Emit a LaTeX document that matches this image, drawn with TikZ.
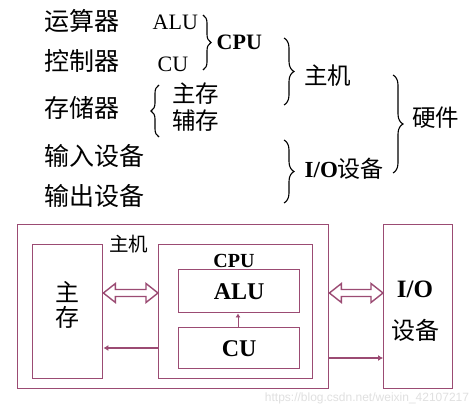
\documentclass[tikz,border=0pt]{standalone}
\usepackage{fontspec}
\setmainfont{Liberation Serif}
\setsansfont{Liberation Sans}
\newfontfamily\cjk{Noto Sans CJK SC}
\usetikzlibrary{decorations.pathreplacing,arrows.meta,calc}
\definecolor{mauve}{RGB}{155,75,115}
\tikzset{
  box/.style={draw=mauve, line width=1.4pt, rectangle, inner sep=0pt, anchor=north west},
  txt/.style={inner sep=0pt, text=black},
  brc/.style={decorate, line width=1.1pt, black},
  link/.style={draw=mauve, line width=1.4pt, -{Latex[length=5pt,width=6pt]}},
  hollow/.style={draw=mauve, line width=1.4pt, fill=white, line join=miter},
}
\newcommand\hollowdbl[2]{%
  \draw[hollow] let \p1=(#1), \p2=(#2) in
    (\x1,\y1) -- (\x1+12pt,\y1+9.5pt) -- (\x1+12pt,\y1+3.5pt) -- (\x2-12pt,\y2+3.5pt)
    -- (\x2-12pt,\y2+9.5pt) -- (\x2,\y2) -- (\x2-12pt,\y2-9.5pt) -- (\x2-12pt,\y2-3.5pt)
    -- (\x1+12pt,\y1-3.5pt) -- (\x1+12pt,\y1-9.5pt) -- cycle;}
\begin{document}
\begin{tikzpicture}[x=1pt,y=-1pt]
\useasboundingbox (0,0) rectangle (474,404);
\fill[white] (0,0) rectangle (474,404);
% ---------- top classification ----------
\node[txt,anchor=west,font=\cjk\fontsize{25}{25}\selectfont] (ysq) at (44,21) {运算器};
\node[txt,anchor=west,font=\cjk\fontsize{25}{25}\selectfont] (kzq) at (44,61) {控制器};
\node[txt,anchor=west,font=\cjk\fontsize{25}{25}\selectfont] (ccq) at (44,107.5) {存储器};
\node[txt,anchor=west,font=\cjk\fontsize{25}{25}\selectfont] (srsb) at (44,156) {输入设备};
\node[txt,anchor=west,font=\cjk\fontsize{25}{25}\selectfont] (scsb) at (44,196) {输出设备};
\node[txt,anchor=base west,font=\fontsize{22}{22}\selectfont] (alut) at (152.5,30) {ALU};
\node[txt,anchor=base west,font=\fontsize{22}{22}\selectfont] (cut) at (157.5,72) {CU};
\node[txt,anchor=base west,font=\bfseries\fontsize{22}{22}\selectfont] (cput) at (216.5,50) {CPU};
\node[txt,anchor=west,font=\cjk\fontsize{23.5}{23.5}\selectfont] (zjt) at (304,76) {主机};
\node[txt,anchor=west,font=\cjk\fontsize{23.5}{23.5}\selectfont] (zct) at (172,94) {主存};
\node[txt,anchor=west,font=\cjk\fontsize{23.5}{23.5}\selectfont] (fct) at (172,121) {辅存};
\node[txt,anchor=base west,font=\fontsize{23}{23}\selectfont] (iot) at (304.5,177) {{\bfseries I/O}{\cjk 设备}};
\node[txt,anchor=west,font=\cjk\fontsize{23.5}{23.5}\selectfont] (yjt) at (412,117.5) {硬件};
% braces
\coordinate (b1a) at (203,15);  \coordinate (b1b) at (203,70);
\coordinate (b2a) at (284,38);  \coordinate (b2b) at (284,105);
\coordinate (b3a) at (159,137); \coordinate (b3b) at (159,85);
\coordinate (b4a) at (284,140); \coordinate (b4b) at (284,203);
\coordinate (b5a) at (393,75);  \coordinate (b5b) at (393,173);
\draw[brc, decoration={brace,amplitude=8pt}] (b1a) -- (b1b);
\draw[brc, decoration={brace,amplitude=10pt}] (b2a) -- (b2b);
\draw[brc, decoration={brace,amplitude=8pt}] (b3a) -- (b3b);
\draw[brc, decoration={brace,amplitude=10pt}] (b4a) -- (b4b);
\draw[brc, decoration={brace,amplitude=10pt}] (b5a) -- (b5b);
% ---------- bottom block diagram ----------
\node[box, minimum width=311pt, minimum height=164pt] (host) at (17,224) {};
\node[box, minimum width=70pt, minimum height=134pt] (ms) at (32,244) {};
\node[box, minimum width=154pt, minimum height=134pt] (cpu) at (158,244) {};
\node[box, minimum width=121pt, minimum height=43pt, font=\bfseries\fontsize{24}{24}\selectfont] (alu) at (178,269) {ALU};
\node[box, minimum width=121pt, minimum height=41pt, font=\bfseries\fontsize{24}{24}\selectfont] (cu) at (178,327) {CU};
\node[box, minimum width=69pt, minimum height=164pt] (io) at (383,224) {};
\node[txt,font=\cjk\fontsize{19.5}{19.5}\selectfont] (hostl) at (128.5,244.5) {主机};
\node[txt,font=\bfseries\fontsize{20}{20}\selectfont,anchor=base] (cpul) at (234,267) {CPU};
\node[txt,font=\cjk\fontsize{24}{24}\selectfont] (ms1) at (67,292.5) {主};
\node[txt,font=\cjk\fontsize{24}{24}\selectfont] (ms2) at (67,317.5) {存};
\node[txt,font=\bfseries\fontsize{25}{25}\selectfont,anchor=base] (io1) at (415,297) {I/O};
\node[txt,font=\cjk\fontsize{24}{24}\selectfont] (io2) at (415,330) {设备};
% connectors
\coordinate (d1a) at (ms.east |- 0,293);
\coordinate (d1b) at (cpu.west |- 0,293);
\coordinate (d2a) at (host.east |- 0,293);
\coordinate (d2b) at (io.west |- 0,293);
\hollowdbl{d1a}{d1b}
\hollowdbl{d2a}{d2b}
\draw[link] (cpu.west |- 0,348) -- (ms.east |- 0,348);
\draw[link] (host.east |- 0,358) -- (io.west |- 0,358);
\draw[draw=mauve, line width=1pt, -{Latex[length=4pt,width=5pt]}] (cu.north -| 238,0) -- (alu.south -| 238,0);
% watermark
\node[txt,font=\sffamily\fontsize{12}{12}\selectfont,text=black!12] (wm) at (367,398) {https://blog.csdn.net/weixin\_42107217};
\end{tikzpicture}
\end{document}
